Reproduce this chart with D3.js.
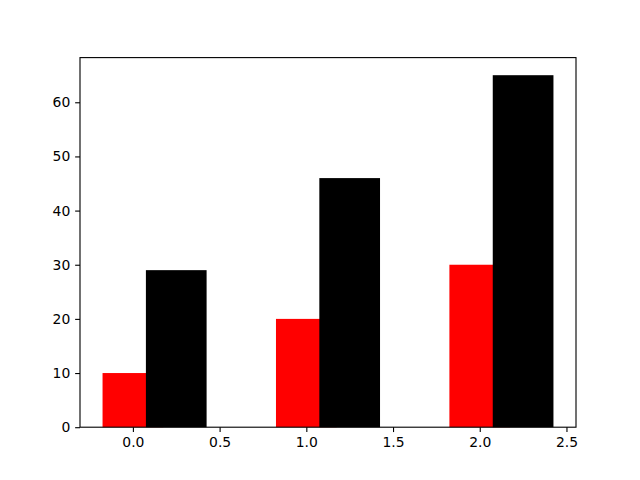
<!DOCTYPE html>
<html>
<head>
<meta charset="utf-8">
<script src="https://cdn.jsdelivr.net/npm/d3@7"></script>
<style>
  body { margin: 0; background: #fff; }
  text { font-family: "DejaVu Sans", sans-serif; }
</style>
</head>
<body>
<div id="chart"></div>
<script>
// Data
var groups = [0, 1, 2];
var redValues = [10, 20, 30];
var blackValues = [29, 46, 65];
var barWidth = 0.35;
var offset = 0.25;
var xTicks = [0.0, 0.5, 1.0, 1.5, 2.0, 2.5];
var yTicks = [0, 10, 20, 30, 40, 50, 60];

var margin = {top: 57.6, right: 64, bottom: 52.8, left: 80},
    width = 640 - margin.left - margin.right,
    height = 480 - margin.top - margin.bottom;

var svg = d3.select("#chart").append("svg")
    .attr("width", 640)
    .attr("height", 480);

var g = svg.append("g")
    .attr("transform", "translate(" + margin.left + "," + margin.top + ")");

// x domain: bar extent plus 5% margins like matplotlib
var xlo = d3.min(groups) - barWidth / 2,
    xhi = d3.max(groups) + offset + barWidth / 2,
    pad = (xhi - xlo) * 0.05;
var x = d3.scaleLinear().domain([xlo - pad, xhi + pad]).range([0, width]);
var ymax = d3.max(blackValues.concat(redValues));
var y = d3.scaleLinear().domain([0, ymax * 1.05]).range([height, 0]);

// red bars first, black drawn on top
g.selectAll(".red")
    .data(groups)
  .enter().append("rect")
    .attr("x", function(d) { return x(d - barWidth / 2); })
    .attr("width", function(d) { return x(d + barWidth / 2) - x(d - barWidth / 2); })
    .attr("y", function(d, i) { return y(redValues[i]); })
    .attr("height", function(d, i) { return y(0) - y(redValues[i]); })
    .style("fill", "#ff0000");

g.selectAll(".black")
    .data(groups)
  .enter().append("rect")
    .attr("x", function(d) { return x(d + offset - barWidth / 2); })
    .attr("width", function(d) { return x(d + offset + barWidth / 2) - x(d + offset - barWidth / 2); })
    .attr("y", function(d, i) { return y(blackValues[i]); })
    .attr("height", function(d, i) { return y(0) - y(blackValues[i]); })
    .style("fill", "#000000");

// axes
var xAxis = g.append("g")
    .attr("transform", "translate(0," + height + ")")
    .call(d3.axisBottom(x).tickValues(xTicks).tickFormat(d3.format(".1f")).tickSizeInner(4.86).tickSizeOuter(0).tickPadding(4.86));

var yAxis = g.append("g")
    .call(d3.axisLeft(y).tickValues(yTicks).tickFormat(d3.format("d")).tickSizeInner(4.86).tickSizeOuter(0).tickPadding(4.86));

[xAxis, yAxis].forEach(function(a) {
    a.select(".domain").remove();
    a.selectAll("line").attr("stroke", "#000").attr("stroke-width", 1.11);
    a.selectAll("text").style("font-size", "13.9px").style("font-family", "DejaVu Sans, sans-serif").attr("fill", "#000");
});

// frame
g.append("rect")
    .attr("width", width)
    .attr("height", height)
    .style("fill", "none")
    .style("stroke", "#000")
    .style("stroke-width", 1.11);
</script>
</body>
</html>
